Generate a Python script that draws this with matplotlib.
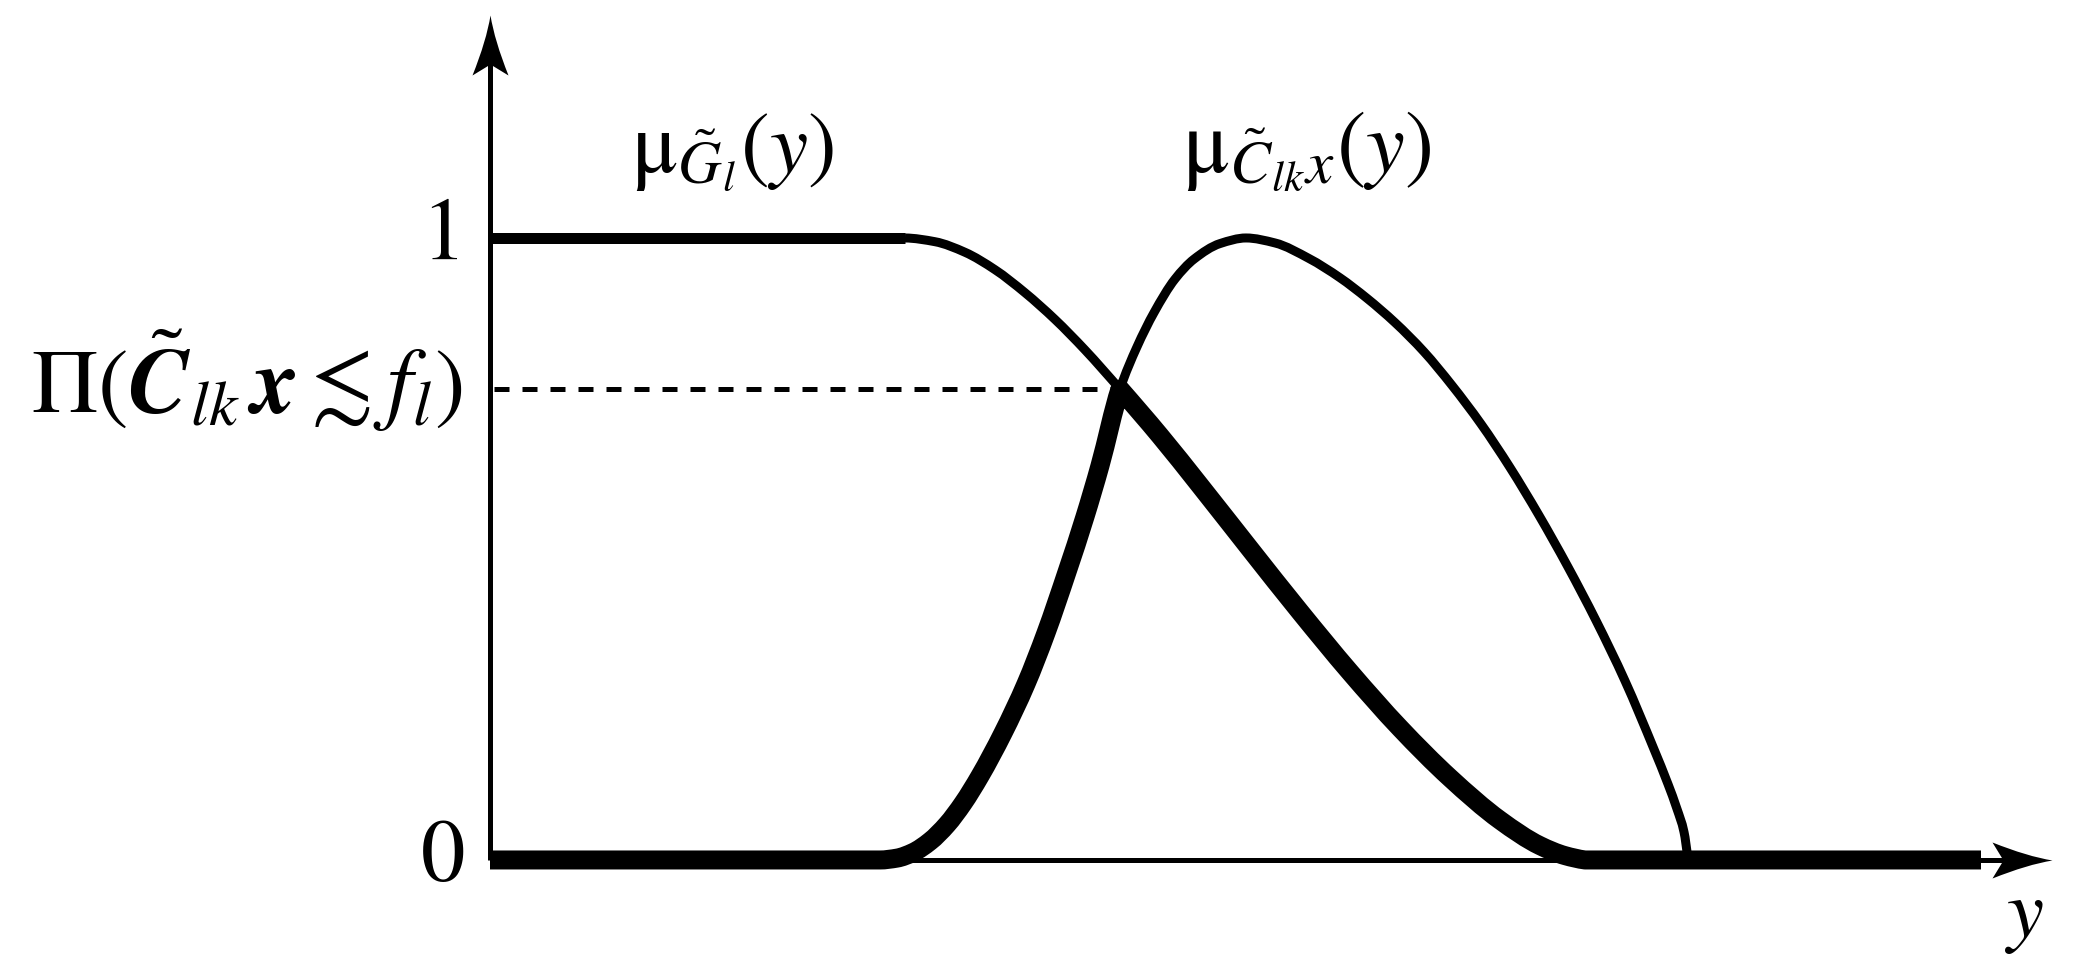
import numpy as np
import matplotlib
matplotlib.use("Agg")
import matplotlib.pyplot as plt
from matplotlib.path import Path
from matplotlib.patches import PathPatch

plt.rcParams['mathtext.fontset'] = 'stix'
plt.rcParams['font.family'] = ['STIXGeneral', 'DejaVu Serif']

# ---------------- data (x in arbitrary units of the y-variable, values = membership) -------------
# membership of fuzzy goal G_l (flat at 1 before g_x[0])
g_x = [4.15, 4.45, 4.75, 5.05, 5.35, 5.65, 5.95, 6.30, 6.70, 7.10, 7.60, 8.10, 8.60, 9.10,
       9.60, 10.10, 10.50, 10.75, 10.95]
g_v = [1.0, 0.994, 0.977, 0.949, 0.912, 0.869, 0.820, 0.757, 0.682, 0.602, 0.500, 0.399, 0.302,
       0.212, 0.132, 0.064, 0.023, 0.007, 0.0]
# membership of C_lk x
c_x = [3.90, 4.07, 4.23, 4.40, 4.57, 4.73, 4.90, 5.13, 5.36, 5.56, 5.77, 5.95, 6.10, 6.30,
       6.47, 6.64, 6.85, 7.04, 7.30, 7.56, 7.85, 8.19, 8.50, 8.77, 9.05, 9.34, 9.62, 9.91,
       10.20, 10.49, 10.78, 11.06, 11.35, 11.64, 11.78, 11.87, 11.94, 11.98]
c_v = [0.0, 0.003, 0.012, 0.030, 0.057, 0.091, 0.135, 0.204, 0.283, 0.365, 0.463, 0.552, 0.634,
       0.757, 0.825, 0.880, 0.934, 0.966, 0.991, 1.0, 0.992, 0.967, 0.936, 0.903, 0.864, 0.817,
       0.763, 0.701, 0.631, 0.554, 0.471, 0.385, 0.288, 0.178, 0.122, 0.082, 0.045, 0.0]
# intersection (possibility level)
pi_level = 0.757
c_cross_idx = 13   # index in c arrays of the intersection
g_cross_idx = 7    # index in g arrays of the intersection
x_thick_end = 14.91
x_axis_end = 15.62
y_axis_end = 1.3585

tick_labels = ["0", "1"]
tick_values = [0.0, 1.0]

# ---------------- figure ----------------
PX = 0.72  # points per pixel at dpi 100
fig = plt.figure(figsize=(20.77, 9.71), dpi=100)
ax = fig.add_axes([0, 0, 1, 1])
ax.set_xlim(-4.90, 15.87)
ax.set_ylim(-0.1785, 1.3826)
ax.axis('off')

k = 'black'


def hermite_slopes(xs, ys):
    """Monotone (Fritsch-Carlson) tangents so the drawn curve does not overshoot."""
    x = np.asarray(xs, float)
    y = np.asarray(ys, float)
    h = np.diff(x)
    d = np.diff(y) / h
    n = len(x)
    m = np.zeros(n)
    for i in range(1, n - 1):
        if d[i - 1] * d[i] > 0:
            w1 = 2 * h[i] + h[i - 1]
            w2 = h[i] + 2 * h[i - 1]
            m[i] = (w1 + w2) / (w1 / d[i - 1] + w2 / d[i])

    def end(h0, h1, d0, d1):
        mm = ((2 * h0 + h1) * d0 - h0 * d1) / (h0 + h1)
        if np.sign(mm) != np.sign(d0):
            mm = 0.0
        elif np.sign(d0) != np.sign(d1) and abs(mm) > 3 * abs(d0):
            mm = 3 * d0
        return mm

    m[0] = end(h[0], h[1], d[0], d[1])
    m[-1] = end(h[-1], h[-2], d[-1], d[-2])
    return m


def smooth_segments(xs, ys, i0, i1):
    m = hermite_slopes(xs, ys)
    verts, codes = [], []
    for i in range(i0, i1):
        hh = xs[i + 1] - xs[i]
        c1 = (xs[i] + hh / 3, ys[i] + m[i] * hh / 3)
        c2 = (xs[i + 1] - hh / 3, ys[i + 1] - m[i + 1] * hh / 3)
        verts += [c1, c2, (xs[i + 1], ys[i + 1])]
        codes += [Path.CURVE4] * 3
    return verts, codes


def add_curve(pieces, lw):
    verts, codes = [], []
    for kind, data in pieces:
        if kind == 'line':
            for pt in data:
                verts.append(pt)
                codes.append(Path.MOVETO if not codes else Path.LINETO)
        else:
            xs, ys, i0, i1 = data
            if not codes:
                verts.append((xs[i0], ys[i0]))
                codes.append(Path.MOVETO)
            v, c = smooth_segments(xs, ys, i0, i1)
            verts += v
            codes += c
    patch = PathPatch(Path(verts, codes), fill=False, edgecolor=k, lw=lw,
                      capstyle='butt', joinstyle='round', transform=ax.transData)
    ax.add_patch(patch)


# axes lines
ax.plot([0, 0], [0, y_axis_end - 0.05], color=k, lw=5 * PX, solid_capstyle='butt')
ax.plot([0, x_axis_end - 0.3], [0, 0], color=k, lw=5 * PX, solid_capstyle='butt')


# arrowheads as custom markers
def arrow_marker(angle_deg):
    verts = np.array([(0, 0), (-25, 4), (-60, 18), (-49, 0), (-60, -18), (-25, -4), (0, 0), (0, 0)], float)
    codes = [Path.MOVETO, Path.CURVE3, Path.CURVE3, Path.LINETO, Path.LINETO,
             Path.CURVE3, Path.CURVE3, Path.CLOSEPOLY]
    a = np.deg2rad(angle_deg)
    R = np.array([[np.cos(a), -np.sin(a)], [np.sin(a), np.cos(a)]])
    return Path(verts @ R.T, codes)


ax.plot([x_axis_end], [0], marker=arrow_marker(0), markersize=120 * PX, color=k, mew=0)
ax.plot([0], [y_axis_end], marker=arrow_marker(90), markersize=120 * PX, color=k, mew=0)

# thin curves
ax.plot([0, g_x[0]], [g_v[0], g_v[0]], color=k, lw=11 * PX, solid_capstyle='butt')
add_curve([('smooth', (g_x, g_v, 0, len(g_x) - 1))], 9 * PX)
add_curve([('smooth', (c_x, c_v, 0, len(c_x) - 1))], 9 * PX)

# thick: minimum of the two memberships
add_curve([('line', [(0, 0), (c_x[0], c_v[0])]),
           ('smooth', (c_x, c_v, 0, c_cross_idx)),
           ('smooth', (g_x, g_v, g_cross_idx, len(g_x) - 1)),
           ('line', [(x_thick_end, 0)])], 19 * PX)

# dashed level line
ax.plot([0.04, c_x[c_cross_idx]], [pi_level, pi_level], color=k, lw=5 * PX,
        linestyle=(0, (3, 2.6)), dash_capstyle='butt')

# tick labels
for t, v in zip(tick_labels, tick_values):
    ax.text(-0.47, v, t, fontsize=64, ha='center', va='center')

ax.text(-0.28, 0.719, r'$\Pi(\tilde{\mathbfit{C}}_{lk}\,\mathbfit{x}\lesssim f_l)$',
        fontsize=66, ha='right', va='baseline')
ax.text(1.41, 1.106, r'$\mathrm{\mu}_{\tilde{G}_l}(y)$', fontsize=62, ha='left', va='baseline')
ax.text(6.92, 1.106, r'$\mathrm{\mu}_{\tilde{C}_{lk}x}(y)$', fontsize=63, ha='left', va='baseline')
ax.text(15.34, -0.095, r'$y$', fontsize=60, ha='center', va='center')

fig.savefig('out.png', dpi=100)
